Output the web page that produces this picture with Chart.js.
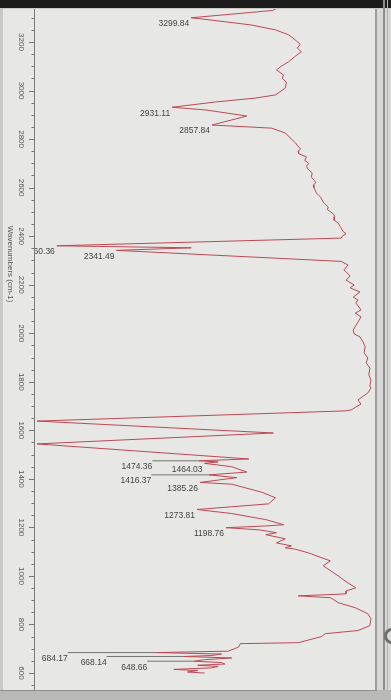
<!DOCTYPE html>
<html>
<head>
<meta charset="utf-8">
<script src="https://cdn.jsdelivr.net/npm/chart.js@4.4.1/dist/chart.umd.min.js"></script>
<style>
  html, body { margin: 0; padding: 0; background: #cfcfcd; }
  #wrap { width: 391px; height: 700px; }
</style>
</head>
<body>
<div id="wrap"><canvas id="ir" width="391" height="700"></canvas></div>
<script>
// IR spectrum, photographed rotated: wavenumber runs down the left side
const wavenumbers = [
  3380, 3330, 3299.84, 3290, 3270, 3250, 3230, 3210, 3190, 3175, 3160, 3140, 3118, 3100, 3085,
  3064, 3050, 3035, 3010, 2982, 2969, 2953, 2931.11, 2920, 2895, 2857.84, 2850, 2845, 2825,
  2800, 2784, 2770, 2760, 2750, 2740, 2726, 2712, 2700, 2690, 2680, 2660, 2644, 2630, 2620,
  2610, 2600, 2578, 2568, 2560, 2540, 2520, 2510, 2500, 2490, 2480, 2466, 2454, 2440, 2430,
  2420, 2410, 2400, 2392, 2360.36, 2352, 2341.49, 2296,
  2281, 2261, 2236, 2219, 2199, 2187, 2170, 2149, 2137, 2125, 2096, 2083, 2067, 2046, 2013,
  1997, 1985, 1964, 1944, 1919, 1898, 1878, 1857, 1828, 1807, 1783, 1774, 1754, 1725, 1708,
  1696, 1684, 1680, 1638, 1589, 1544, 1482, 1474.36, 1470, 1464.03, 1450, 1428, 1416.37,
  1405, 1385.26, 1378, 1345, 1322, 1297, 1285, 1273.81, 1257, 1232, 1211, 1206, 1198.76,
  1190, 1178, 1170, 1153, 1136, 1124, 1116, 1110, 1095, 1062, 1042, 1000, 971, 951, 938,
  926, 918, 910, 890, 869, 844, 824, 795, 775, 762, 750, 725, 721, 707, 690, 684.17, 678,
  672, 668.14, 662, 655, 648.66, 643, 637, 632, 627, 621, 615, 610, 604, 600
];
const transmittance = [
  77, 70, 46.1, 52.2, 63.8, 70.8, 74.6, 76.5, 78.1, 77.2, 78.4, 76.5, 74.6, 72.5, 71.1,
  73.2, 72.8, 74.0, 73.7, 70.8, 65.0, 53.3, 40.5, 50.4, 62.4, 52.2, 63.0, 69.7, 73.7,
  75.5, 76.7, 77.4, 78.2, 77.5, 77.6, 79.9, 79.4, 80.6, 80.0, 80.1, 81.6, 81.3, 82.2, 82.6,
  81.9, 82.1, 82.8, 83.5, 84.1, 84.8, 86.3, 86.0, 87.0, 87.9, 88.2, 88.0, 89.2, 89.8, 90.2,
  90.6, 91.5, 90.4, 90.1, 6.7, 46.1, 24.2, 90.1,
  92.1, 90.9, 92.7, 91.5, 93.9, 92.7, 95.6, 93.6, 95.0, 94.4, 95.9, 94.2, 95.9, 95.0, 93.6,
  93.9, 95.6, 96.5, 97.1, 96.8, 97.9, 97.4, 98.5, 98.2, 98.8, 98.5, 98.8, 97.9, 95.0, 95.9,
  94.4, 93.0, 91.2, 0.9, 70.2, 0.9, 63.0, 48.4, 54, 50, 58, 62.4, 51.3,
  59.5, 48.7, 58, 66.8, 70.8, 68.8, 58, 47.8, 58, 68, 73.2, 68, 56.3,
  66, 71.1, 68, 73.7, 71.1, 75.5, 73.7, 76.7, 80.5, 86.9, 84.8, 89.2, 92.1, 94.4, 91.5,
  91.5, 77.5, 87, 89.2, 94.2, 97.9, 98.8, 98.5, 95.0, 85.4, 84.3, 77.5, 60.5, 60, 57, 35.9, 55,
  52, 44, 58, 50, 47, 55, 56, 48, 54, 52, 41, 48, 45, 50
];
const peakLabels = [
  '3299.84', '2931.11', '2857.84', '2360.36', '2341.49', '1474.36', '1464.03',
  '1416.37', '1385.26', '1273.81', '1198.76', '684.17', '668.14', '648.66'
];
const axisTicks = [600, 800, 1000, 1200, 1400, 1600, 1800, 2000, 2200, 2400, 2600, 2800, 3000, 3200];

// where the text ends (in %T) for labels that use a leader line
const leaderEnds = { '1474.36': 34.7, '1416.37': 34.4, '684.17': 9.9, '668.14': 21.3, '648.66': 33.2 };

const points = wavenumbers.map((w, i) => ({ x: transmittance[i], y: w }));

const photoFrame = {
    id: 'photoFrame',
    beforeDraw(chart) {
        const c = chart.ctx;
        c.save();
        c.fillStyle = '#c9c9c7';
        c.fillRect(0, 0, 391, 700);
        c.fillStyle = '#e7e7e5';
        c.fillRect(3, 9, 372, 681);
        // dark bezel at the top
        c.fillStyle = '#1c1c1c';
        c.fillRect(0, 0, 391, 8);
        // right frame lines
        c.fillStyle = '#9c9c9a';
        c.fillRect(375, 9, 2, 681);
        c.fillStyle = '#d8d8d6';
        c.fillRect(377, 9, 14, 691);
        c.fillStyle = '#8e8e8c';
        c.fillRect(383, 0, 2, 700);
        c.fillStyle = '#b4b4b2';
        c.fillRect(387, 0, 1, 700);
        // bottom frame
        c.fillStyle = '#b9b9b7';
        c.fillRect(0, 690, 391, 10);
        c.fillStyle = '#8f8f8d';
        c.fillRect(0, 690, 377, 1);
        // round button on the right edge
        c.beginPath();
        c.arc(392, 636, 8, 0, Math.PI * 2);
        c.fillStyle = '#6f6f6d';
        c.fill();
        c.beginPath();
        c.arc(392, 636, 5, 0, Math.PI * 2);
        c.fillStyle = '#dcdcda';
        c.fill();
        c.restore();
    },
    afterDatasetsDraw(chart) {
        const c = chart.ctx;
        const ys = chart.scales.y;
        const xs = chart.scales.x;
        const area = chart.chartArea;
        const left = area.left;

        c.save();
        // tick marks, minor every 50
        c.strokeStyle = '#777';
        c.lineWidth = 1;
        for (let v = 550; v <= 3300; v += 50) {
            const y = Math.round(ys.getPixelForValue(v)) + 0.5;
            const len = v % 200 === 0 ? 5 : 2.5;
            c.beginPath();
            c.moveTo(left - len, y);
            c.lineTo(left, y);
            c.stroke();
        }
        // tick labels, rotated like the photographed screen
        c.fillStyle = '#555';
        c.font = '8px "Liberation Sans", Arial, sans-serif';
        c.textAlign = 'center';
        c.textBaseline = 'middle';
        axisTicks.forEach(v => {
            c.save();
            c.translate(21, ys.getPixelForValue(v));
            c.rotate(Math.PI / 2);
            c.fillText(String(v), 0, 0);
            c.restore();
        });
        c.save();
        c.translate(10, ys.getPixelForValue(2285));
        c.rotate(Math.PI / 2);
        c.fillText('Wavenumbers (cm-1)', 0, 0);
        c.restore();

        // peak annotations
        c.beginPath();
        c.rect(area.left + 1, area.top, area.right - area.left, area.bottom - area.top);
        c.clip();
        c.font = '8.5px "Liberation Sans", Arial, sans-serif';
        c.textAlign = 'right';
        c.textBaseline = 'middle';
        peakLabels.forEach(label => {
            const w = parseFloat(label);
            const idx = wavenumbers.indexOf(w);
            if (idx < 0) return;
            const tipX = xs.getPixelForValue(transmittance[idx]);
            const tipY = ys.getPixelForValue(w);
            let textRight = tipX - 2;
            if (leaderEnds[label] !== undefined) {
                textRight = xs.getPixelForValue(leaderEnds[label]);
                c.strokeStyle = '#555';
                c.lineWidth = 0.8;
                c.beginPath();
                c.moveTo(textRight, tipY);
                c.lineTo(tipX, tipY);
                c.stroke();
            }
            c.fillStyle = '#444';
            c.fillText(label, textRight, tipY + 6);
        });
        c.restore();
    }
};

new Chart(document.getElementById('ir'), {
    type: 'scatter',
    data: {
        datasets: [{
            label: 'Spectrum',
            data: points,
            showLine: true,
            borderColor: '#bc4a55',
            borderWidth: 1,
            pointRadius: 0,
            tension: 0
        }]
    },
    options: {
        responsive: false,
        animation: false,
        devicePixelRatio: 1,
        layout: { padding: { top: 9, right: 16, bottom: 10, left: 0 } },
        plugins: {
            legend: { display: false },
            tooltip: { enabled: false }
        },
        scales: {
            x: {
                type: 'linear',
                display: false,
                min: 0,
                max: 100
            },
            y: {
                type: 'linear',
                min: 530,
                max: 3336,
                grid: { display: false },
                border: { display: true, color: '#7a7a7a', width: 1 },
                ticks: { display: false },
                afterFit(scale) {
                    scale.width = 34;
                }
            }
        }
    },
    plugins: [photoFrame]
});
</script>
</body>
</html>
